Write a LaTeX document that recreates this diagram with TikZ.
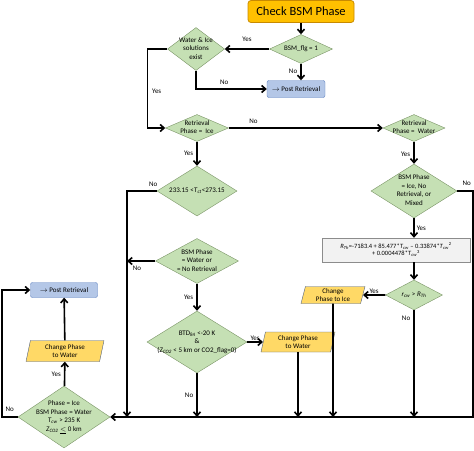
\documentclass[tikz,border=0pt]{standalone}
\usepackage{fontspec}
\setmainfont{Carlito}
\usetikzlibrary{shapes.geometric,arrows.meta}
\definecolor{dgreen}{HTML}{C5E0B4}
\definecolor{dgreenline}{HTML}{7A9466}
\definecolor{pgold}{HTML}{FFD966}
\definecolor{pgoldline}{HTML}{4F6080}
\definecolor{pblue}{HTML}{B4C7E7}
\definecolor{pblueline}{HTML}{5B7FBF}
\definecolor{sorange}{HTML}{FFC000}
\definecolor{sorangeline}{HTML}{C88A00}
\newcommand{\dtxt}[1]{\makebox[0pt]{\smash{\raisebox{-1.6pt}{\begin{tabular}{@{}c@{}}#1\end{tabular}}}}}
\newcommand{\Tcw}{\textit{T}\textsubscript{\textit{cw}}}
\newcommand{\Tct}{\textit{T}\textsubscript{\textit{ct}}}
\newcommand{\Rth}{\textit{R}\textsubscript{\textit{Th}}}
\newcommand{\rcw}{\textit{r}\textsubscript{\textit{cw}}}
\newcommand{\Zco}{\textit{Z}\textsubscript{\textit{CO2}}}
\begin{document}
\begin{tikzpicture}[x=1pt,y=-1pt,
  font=\fontsize{7}{8.5}\selectfont,
  dia/.style={diamond,draw=dgreenline,fill=dgreen,inner sep=0pt},
  para/.style={trapezium,trapezium left angle=74,trapezium right angle=106,
    trapezium stretches body,draw=pgoldline,fill=pgold,align=center,inner sep=1pt},
  post/.style={rectangle,rounded corners=2pt,draw=pblueline,fill=pblue},
  arr/.style={line width=1.6pt,-{Straight Barb[length=4pt,width=7pt]}},
  lbl/.style={inner sep=0pt}]
  \useasboundingbox (0,0) rectangle (474,450);
  % Top part
  \node[rectangle,rounded corners=3pt,draw=sorangeline,fill=sorange,line width=0.8pt,
    minimum width=106,minimum height=22,font=\fontsize{12.5}{14}\selectfont] (start) at (301,11.5) {Check BSM Phase};
  \node[dia,minimum width=63,minimum height=29] (flg) at (301,49) {\dtxt{BSM\_flg = 1}};
  \node[dia,minimum width=57,minimum height=43] (wis) at (196,49) {\dtxt{Water \& Ice\\solutions\\exist}};
  \node[post,minimum width=58,minimum height=17] (post1) at (296,89) {$\rightarrow$ Post Retrieval};
  % Retrieval phase
  \node[dia,minimum width=63,minimum height=27] (rpi) at (197,128) {\dtxt{Retrieval\\Phase = \ Ice}};
  \node[dia,minimum width=62,minimum height=27] (rpw) at (414,128) {\dtxt{Retrieval\\Phase = \ Water}};
  % Ice branch
  \node[dia,minimum width=80,minimum height=50] (tr) at (197,191) {\dtxt{233.15 <\Tct<273.15}};
  \node[dia,minimum width=83,minimum height=45] (bsmw) at (197,261) {\dtxt{BSM Phase\\= Water or\\= No Retrieval}};
  \node[dia,minimum width=100,minimum height=62] (btd) at (197,342) {\dtxt{BTD\textsubscript{84} <-20 K\\\&\\(\Zco{} < 5 km or CO2\_flag=0)}};
  \node[para,minimum width=74,minimum height=20] (cpw) at (298,342) {Change Phase\\to Water};
  % Water branch
  \node[dia,minimum width=86,minimum height=54] (bsmi) at (414,191) {\dtxt{BSM Phase\\= Ice, No\\Retrieval, or\\Mixed}};
  \node[rectangle,draw=black!45,fill=black!5,minimum width=148,minimum height=24,align=center,
    font=\fontsize{6.5}{7.5}\selectfont] (rth) at (396,250)
    {\Rth=-7183.4 + 85.477*\Tcw{} \textendash{} 0.33874*\Tcw\textsuperscript{2}\\+ 0.0004478*\Tcw\textsuperscript{3}};
  \node[dia,minimum width=57,minimum height=30] (rcw) at (414,295) {\dtxt{\rcw{} > \Rth}};
  \node[para,minimum width=64,minimum height=17] (cpi) at (333,295) {Change\\Phase to Ice};
  % Final check
  \node[post,minimum width=67,minimum height=15] (post2) at (64,290) {$\rightarrow$ Post Retrieval};
  \node[para,minimum width=78,minimum height=21] (cpw2) at (65,351) {Change Phase\\to Water};
  \node[dia,minimum width=92,minimum height=62] (fin) at (64,417) {\dtxt{Phase = Ice\\BSM Phase = Water\\\Tcw{} > 235 K\\\Zco{} $\underline{<}$ 0 km}};
  \coordinate (nl) at (127,417);
  \coordinate (br) at (473,417);
  % Connectors
  \draw[arr] (start) -- (flg);
  \draw[arr] (flg) -- (wis) node[lbl,midway,above=7pt] {Yes};
  \draw[arr] (flg) -- (flg.south |- post1.north) node[lbl,midway,left=3pt,yshift=1pt] {No};
  \draw[arr] (wis) |- (post1) node[lbl,pos=0.7,above=4pt] {No};
  \draw[arr] (wis.west) -- ++(-20,0) |- node[lbl,pos=0.27,right=4pt] {Yes} (rpi.west);
  \draw[arr] (rpi) -- (rpw) node[lbl,pos=0.16,above=4pt] {No};
  \draw[arr] (rpi) -- (tr) node[lbl,midway,left=3pt] {Yes};
  \draw[arr] (rpw) -- (bsmi) node[lbl,midway,left=3pt,yshift=-2pt] {Yes};
  \draw[arr] (tr) -| (nl) node[lbl,pos=0.06,above=4pt] {No};
  \draw[arr] (bsmw) -- (bsmw.west -| nl) node[lbl,pos=0.65,below=4pt] {No};
  \draw[arr] (bsmw) -- (btd) node[lbl,midway,left=3pt] {Yes};
  \draw[arr] (btd) -- (cpw) node[lbl,midway,above=1pt] {Yes};
  \draw[arr] (btd) -- (btd.south |- nl) node[lbl,midway,left=3pt] {No};
  \draw[arr] (cpw) -- (cpw.south |- nl);
  \draw[arr] (bsmi) -| node[lbl,pos=0.3,above=5pt] {No} (br) -- (fin);
  \draw[arr] (bsmi) -- (bsmi.south |- rth.north) node[lbl,midway,right=2pt] {Yes};
  \draw[arr] (rth.south -| rcw.north) -- (rcw);
  \draw[arr] (rcw) -- (cpi) node[lbl,midway,above=1pt] {Yes};
  \draw[arr] (cpi) -- (cpi.south |- nl);
  \draw[arr] (rcw) -- (rcw.south |- nl) node[lbl,pos=0.08,left=3pt] {No};
  \draw[arr] (fin) -- (cpw2) node[lbl,midway,left=3pt] {Yes};
  \draw[arr] (cpw2) -- (post2);
  \draw[arr] (fin.west) -- node[lbl,midway,above=5pt] {No} ++(-16,0) |- (post2.west);
\end{tikzpicture}
\end{document}
